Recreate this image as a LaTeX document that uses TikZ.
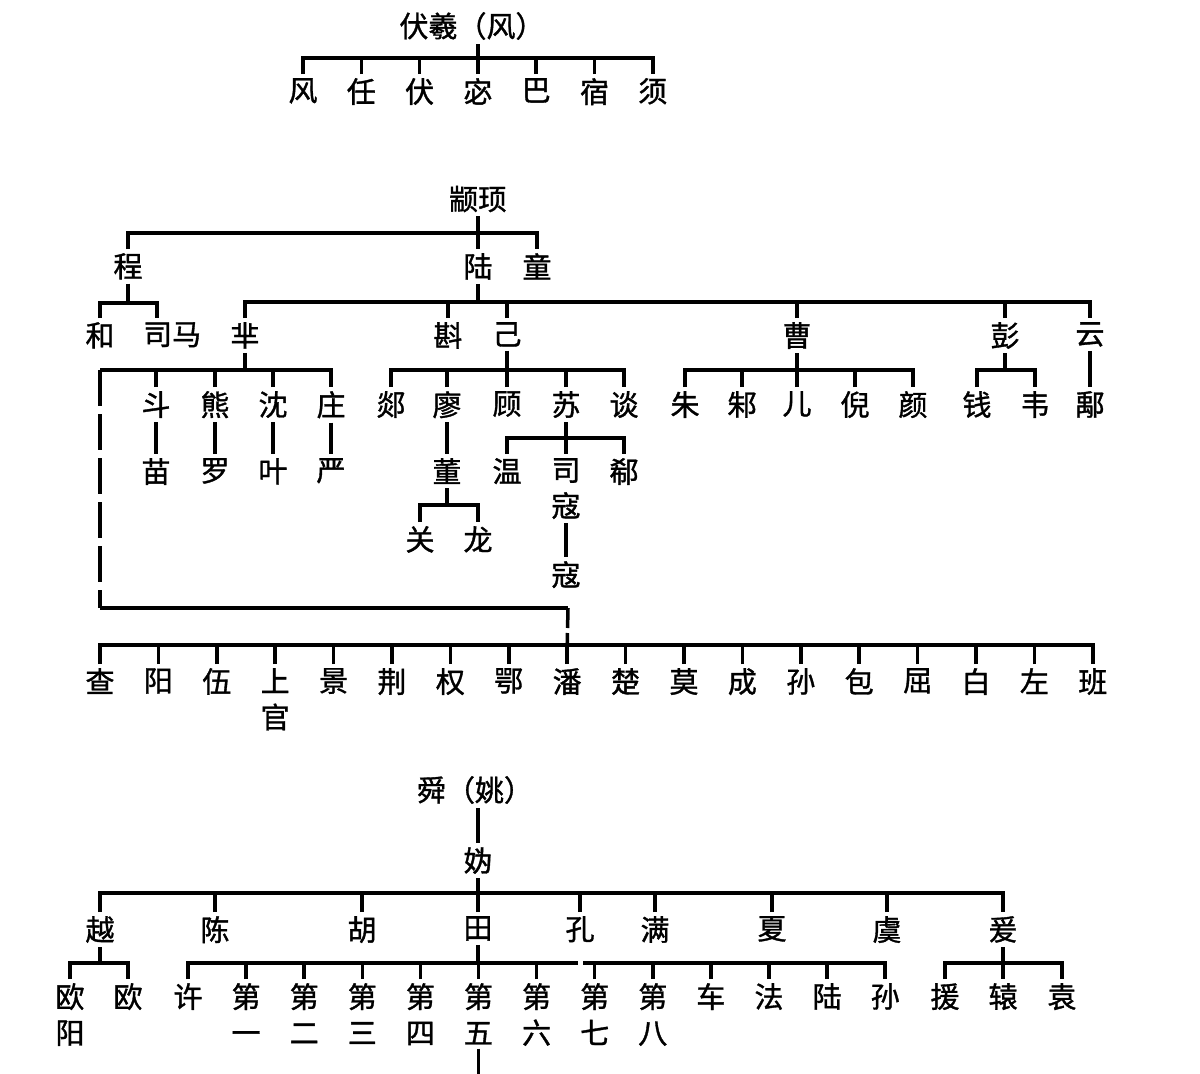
\documentclass[tikz,border=0pt]{standalone}
\usepackage{fontspec}
\newfontfamily\cjk[FakeBold=1.2]{Noto Sans CJK SC}
\usetikzlibrary{calc}

\tikzset{
  zi/.style={font=\cjk\fontsize{29}{36}\selectfont,inner sep=4pt,align=center},
  kid/.style={zi,anchor=north},
  link/.style={line width=3.5pt,black},
  dline/.style={link,dash pattern=on 36pt off 8pt},
}

\begin{document}
\begin{tikzpicture}[x=1pt,y=-1pt]
\useasboundingbox[fill=white] (0,0) rectangle (1200,1074);

% 伏羲
\node[zi] (fx) at (472,26) {伏羲（风）};
\foreach \t [count=\i] in {风,任,伏,宓,巴,宿,须}
  \node[kid] (f\i) at ({303+58.3*(\i-1)},74) {\t};
\coordinate (fb) at (0,58);
\draw[link] (f1.north) -- (f1 |- fb) -- (f7 |- fb) -- (f7.north);
\foreach \i in {2,...,6} \draw[link] (f\i.north) -- (f\i |- fb);
\draw[link] (f4 |- fx.south) -- (f4 |- fb);

% 颛顼
\node[zi] (zx) at (478,199) {颛顼};
\coordinate (zb) at (0,233);
\node[kid] (cheng) at (128,249) {程};
\node[kid] (lu) at (478,249) {陆};
\node[kid] (tong) at (537,249) {童};
\draw[link] (cheng.north) -- (cheng |- zb) -- (tong |- zb) -- (tong.north);
\draw[link] (zx.south) -- (lu.north);

% 程
\coordinate (cb) at (0,303);
\node[kid] (he) at (100,318) {和};
\node[kid,anchor=north west] (sima) at (139,318) {司马};
\coordinate (si) at ($(sima.north west)+(18,0)$);
\draw[link] (he.north) -- (he |- cb) -- (si |- cb) -- (si);
\draw[link] (cheng.south) -- (cheng |- cb);

% 陆
\coordinate (lb) at (0,302);
\foreach \n/\t/\x in {mi/芈/245,zhen/斟/448,ji/己/507,cao/曹/797,peng/彭/1005,yun/云/1090}
  \node[kid] (\n) at (\x,318) {\t};
\draw[link] (mi.north) -- (mi |- lb) -- (yun |- lb) -- (yun.north);
\foreach \n in {zhen,ji,cao,peng} \draw[link] (\n.north) -- (\n |- lb);
\draw[link] (lu.south) -- (lu |- lb);

% third row
\coordinate (mb) at (0,370);
\coordinate (dl) at (100,370);
\foreach \n/\t/\x in {dou/斗/156,xiong/熊/215,shen/沈/273,zhuang/庄/331,
    tan/郯/391,liao/廖/447,gu/顾/507,su/苏/566,tanx/谈/624,
    zhu/朱/685,zhux/邾/742,er/儿/797,ni/倪/855,yan/颜/913,
    qian/钱/977,wei/韦/1035,yu/鄅/1090}
  \node[kid] (\n) at (\x,387) {\t};
\draw[link] (dl) -- (zhuang |- mb) -- (zhuang.north);
\foreach \n in {dou,xiong,shen} \draw[link] (\n.north) -- (\n |- mb);
\draw[link] (mi.south) -- (mi |- mb);
\draw[link] (tan.north) -- (tan |- mb) -- (tanx |- mb) -- (tanx.north);
\foreach \n in {liao,gu,su} \draw[link] (\n.north) -- (\n |- mb);
\draw[link] (ji.south) -- (ji |- mb);
\draw[link] (zhu.north) -- (zhu |- mb) -- (yan |- mb) -- (yan.north);
\foreach \n in {zhux,er,ni} \draw[link] (\n.north) -- (\n |- mb);
\draw[link] (cao.south) -- (cao |- mb);
\draw[link] (qian.north) -- (qian |- mb) -- (wei |- mb) -- (wei.north);
\draw[link] (peng.south) -- (peng |- mb);
\draw[link] (yun.south) -- (yu.north);

% fourth row
\foreach \n/\t/\x in {miao/苗/156,luo/罗/215,ye/叶/273,yanx/严/331,
    dong/董/447,wen/温/507,sikou/司\\寇/566,xi/郗/624}
  \node[kid] (\n) at (\x,454) {\t};
\foreach \a/\b in {dou/miao,xiong/luo,shen/ye,zhuang/yanx,liao/dong}
  \draw[link] (\a.south) -- (\b.north);
\coordinate (sb) at (0,438);
\draw[link] (wen.north) -- (wen |- sb) -- (xi |- sb) -- (xi.north);
\draw[link] (su.south) -- (su |- sb) -- (sikou.north);

\coordinate (db) at (0,505);
\node[kid] (guan) at (420,522) {关};
\node[kid] (long) at (478,522) {龙};
\draw[link] (guan.north) -- (guan |- db) -- (long |- db) -- (long.north);
\draw[link] (dong.south) -- (dong |- db);
\node[kid] (kou) at (566,557) {寇};
\draw[link] (sikou.south) -- (kou.north);

% 芈 line
\coordinate (jn) at (568,608);
\coordinate (pb) at (0,645);
\foreach \t [count=\i] in {查,阳,伍,上\\官,景,荆,权,鄂,潘,楚,莫,成,孙,包,屈,白,左,班}
  \node[kid] (p\i) at ({100+58.4*(\i-1)},664) {\t};
\draw[link] (p1.north) -- (p1 |- pb) -- (p18 |- pb) -- (p18.north);
\foreach \i in {2,...,17} \draw[link] (p\i.north) -- (p\i |- pb);
\draw[dline] (dl) -- (dl |- jn);
\draw[link] (dl |- jn) -- (jn);
\draw[link,dash pattern=on 20pt off 5pt] (jn) -- (p9 |- pb);

% 舜
\node[zi] (shun) at (475,790) {舜（姚）};
\node[kid] (gui) at (478,843) {妫};
\draw[link] (gui |- shun.south) -- (gui.north);
\coordinate (gb) at (0,893);
\foreach \n/\t/\x in {yue/越/100,chen/陈/215,hu/胡/362,tian/田/478,kong/孔/580,
    man/满/655,xia/夏/772,yuu/虞/887,yuan/爰/1003}
  \node[kid] (\n) at (\x,912) {\t};
\draw[link] (yue.north) -- (yue |- gb) -- (yuan |- gb) -- (yuan.north);
\foreach \n in {chen,hu,tian,kong,man,xia,yuu} \draw[link] (\n.north) -- (\n |- gb);
\draw[link] (gui.south) -- (gui |- gb);

\coordinate (tb) at (0,963);
\node[kid] (ouyang) at (70,979) {欧\\阳};
\node[kid] (ou) at (128,979) {欧};
\draw[link] (ouyang.north) -- (ouyang |- tb) -- (ou |- tb) -- (ou.north);
\draw[link] (yue.south) -- (yue |- tb);

\foreach \t [count=\i] in {许,第\\一,第\\二,第\\三,第\\四,第\\五,第\\六,第\\七,第\\八,车,法,陆,孙}
  \node[kid] (t\i) at ({188+58.1*(\i-1)},979) {\t};
\coordinate (gapl) at (578,963);
\coordinate (gapr) at (583,963);
\draw[link] (t1.north) -- (t1 |- tb) -- (gapl);
\draw[link] (gapr) -- (t13 |- tb) -- (t13.north);
\foreach \i in {2,...,12} \draw[link] (t\i.north) -- (t\i |- tb);
\draw[link] (tian.south) -- (tian |- tb);
\coordinate (cut) at (0,1074);
\draw[link] (t6.south) -- (t6 |- cut);

\foreach \n/\t/\x in {yy/援/945,yz/辕/1003,yx/袁/1062}
  \node[kid] (\n) at (\x,979) {\t};
\draw[link] (yy.north) -- (yy |- tb) -- (yx |- tb) -- (yx.north);
\draw[link] (yuan.south) -- (yz.north);

\end{tikzpicture}
\end{document}
